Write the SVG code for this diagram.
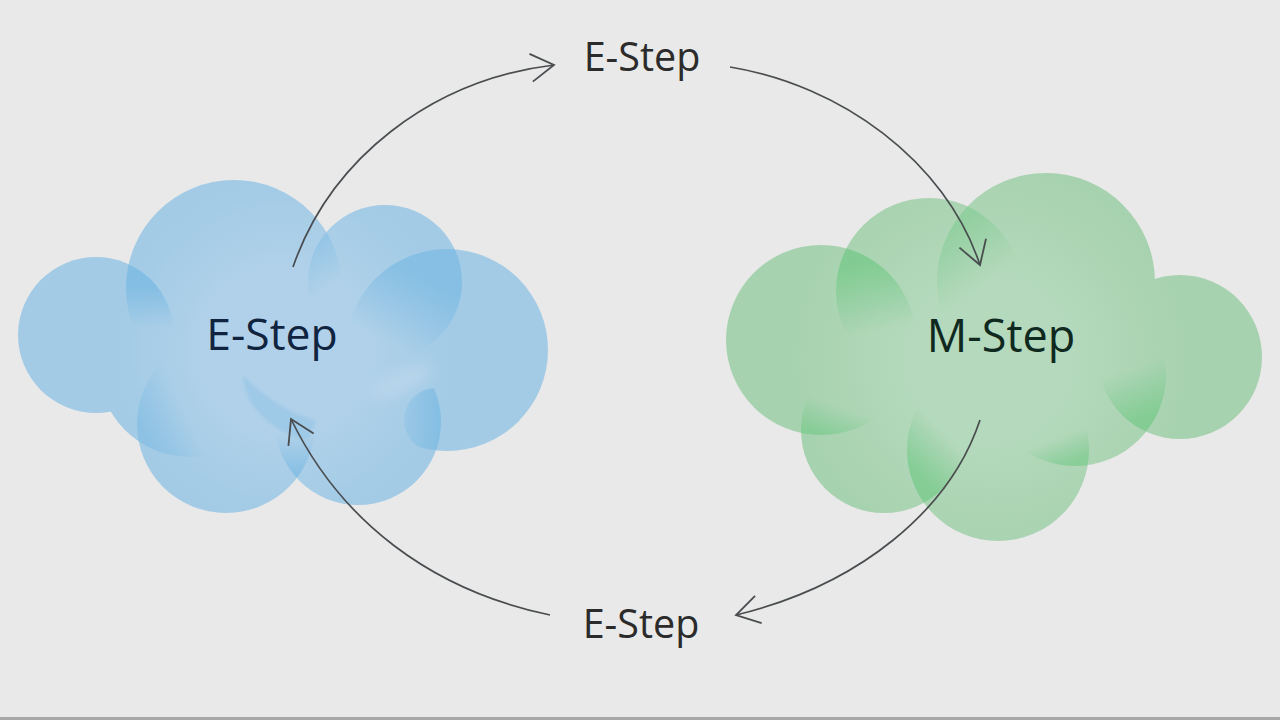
<svg xmlns="http://www.w3.org/2000/svg" width="1280" height="720" viewBox="0 0 1280 720">
<style>
.t{font-family:"Open Sans","Noto Sans",sans-serif;text-anchor:middle}
.conn{fill:none;stroke:#4a4d4f;stroke-width:1.7;marker-end:url(#head)}
.sb{stop-color:#7dbbe3}.sg{stop-color:#7dcb8f}
</style>
<defs>
<radialGradient id="baseB" gradientUnits="userSpaceOnUse" cx="285" cy="350" r="270"><stop offset=".3" stop-color="#b0d1e9"/><stop offset=".62" stop-color="#a3cbe6"/></radialGradient>
<radialGradient id="baseG" gradientUnits="userSpaceOnUse" cx="990" cy="360" r="280"><stop offset=".3" stop-color="#b4d9bc"/><stop offset=".7" stop-color="#a7d2af"/></radialGradient>
<linearGradient id="b1" gradientUnits="userSpaceOnUse" x1="0" y1="285" x2="0" y2="328"><stop class="sb" offset="0" stop-opacity=".85"/><stop class="sb" offset="1" stop-opacity="0"/></linearGradient>
<linearGradient id="b2" gradientUnits="userSpaceOnUse" x1="322" y1="232" x2="350" y2="272"><stop class="sb" offset="0" stop-opacity=".55"/><stop class="sb" offset="1" stop-opacity="0"/></linearGradient>
<linearGradient id="b3" gradientUnits="userSpaceOnUse" x1="425" y1="280" x2="395" y2="345"><stop class="sb" offset="0" stop-opacity=".75"/><stop class="sb" offset="1" stop-opacity="0"/></linearGradient>
<linearGradient id="b4" gradientUnits="userSpaceOnUse" x1="140" y1="425" x2="182" y2="405"><stop class="sb" offset="0" stop-opacity=".6"/><stop class="sb" offset="1" stop-opacity="0"/></linearGradient>
<linearGradient id="b5" gradientUnits="userSpaceOnUse" x1="0" y1="478" x2="0" y2="435"><stop class="sb" offset="0" stop-opacity=".85"/><stop class="sb" offset="1" stop-opacity="0"/></linearGradient>
<linearGradient id="b7" gradientUnits="userSpaceOnUse" x1="405" y1="0" x2="440" y2="0"><stop class="sb" offset="0" stop-opacity=".3"/><stop class="sb" offset="1" stop-opacity=".8"/></linearGradient>
<linearGradient id="g1" gradientUnits="userSpaceOnUse" x1="860" y1="265" x2="872" y2="332"><stop class="sg" offset="0" stop-opacity=".9"/><stop class="sg" offset="1" stop-opacity="0"/></linearGradient>
<linearGradient id="g2" gradientUnits="userSpaceOnUse" x1="945" y1="235" x2="982" y2="285"><stop class="sg" offset="0" stop-opacity=".55"/><stop class="sg" offset="1" stop-opacity="0"/></linearGradient>
<linearGradient id="g3" gradientUnits="userSpaceOnUse" x1="815" y1="433" x2="825" y2="402"><stop class="sg" offset="0" stop-opacity=".8"/><stop class="sg" offset="1" stop-opacity="0"/></linearGradient>
<linearGradient id="g4" gradientUnits="userSpaceOnUse" x1="915" y1="490" x2="958" y2="448"><stop class="sg" offset=".2" stop-opacity=".85"/><stop class="sg" offset="1" stop-opacity="0"/></linearGradient>
<linearGradient id="g5" gradientUnits="userSpaceOnUse" x1="1068" y1="464" x2="1058" y2="438"><stop class="sg" offset="0" stop-opacity=".75"/><stop class="sg" offset="1" stop-opacity="0"/></linearGradient>
<linearGradient id="g6" gradientUnits="userSpaceOnUse" x1="1150" y1="425" x2="1130" y2="368"><stop class="sg" offset=".15" stop-opacity=".85"/><stop class="sg" offset="1" stop-opacity="0"/></linearGradient>
<filter id="soft" x="-30%" y="-30%" width="160%" height="160%"><feGaussianBlur stdDeviation="1.5"/></filter>
<filter id="softer" x="-40%" y="-60%" width="180%" height="220%"><feGaussianBlur stdDeviation="7"/></filter>
<clipPath id="bA"><circle cx="234" cy="288" r="108"/></clipPath>
<clipPath id="bC"><circle cx="385" cy="282" r="77"/></clipPath>
<clipPath id="bD"><circle cx="447" cy="350" r="101"/></clipPath>
<clipPath id="bE"><circle cx="226" cy="424" r="89"/></clipPath>
<clipPath id="bF"><circle cx="358" cy="422" r="83"/></clipPath>
<clipPath id="gA"><circle cx="1046" cy="282" r="109"/></clipPath>
<clipPath id="gB"><circle cx="929" cy="291" r="93"/></clipPath>
<clipPath id="gD"><circle cx="1180" cy="357" r="82"/></clipPath>
<clipPath id="gE"><circle cx="884" cy="430" r="83"/></clipPath>
<clipPath id="gF"><circle cx="998" cy="450" r="91"/></clipPath>
<marker id="head" markerUnits="userSpaceOnUse" markerWidth="40" markerHeight="40" viewBox="-28 -20 32 40" refX="0" refY="0" orient="auto"><path d="M-23,-14 L0,0 L-23,14" fill="none" stroke="#4a4d4f" stroke-width="1.8"/></marker>
</defs>
<rect width="1280" height="720" fill="#e9e9e9"/>
<rect y="717" width="1280" height="3" fill="#a8a8a8"/>
<g id="cloud-e-step">
<g fill="url(#baseB)">
<circle cx="234" cy="288" r="108"/><circle cx="96" cy="335" r="78"/><circle cx="385" cy="282" r="77"/><circle cx="447" cy="350" r="101"/><circle cx="226" cy="424" r="89"/><circle cx="358" cy="422" r="83"/><circle cx="190" cy="365" r="92"/><circle cx="320" cy="330" r="92"/>
</g>
<ellipse cx="400" cy="382" rx="34" ry="10" transform="rotate(-25 400 382)" fill="#b8d6eb" filter="url(#softer)"/>
<circle fill="url(#b1)" cx="96" cy="335" r="78" clip-path="url(#bA)"/>
<circle fill="url(#b2)" cx="234" cy="288" r="108" clip-path="url(#bC)"/>
<circle fill="url(#b3)" cx="385" cy="282" r="77" clip-path="url(#bD)"/>
<circle fill="url(#b4)" cx="190" cy="365" r="92" clip-path="url(#bE)"/>
<circle fill="url(#b5)" cx="226" cy="424" r="89" clip-path="url(#bF)"/>
<g clip-path="url(#bF)"><ellipse fill="url(#b7)" cx="436" cy="420" rx="32" ry="32" clip-path="url(#bD)"/></g>
<path d="M243 375C245 412 280 435 308 440L316 421C285 412 262 395 243 375Z" fill="#8fc3e6" fill-opacity=".55" filter="url(#soft)"/>
<text class="t" x="272" y="350" font-size="44.5" fill="#10243f">E-Step</text>
</g>
<g id="cloud-m-step">
<g fill="url(#baseG)">
<circle cx="1046" cy="282" r="109"/><circle cx="929" cy="291" r="93"/><circle cx="821" cy="340" r="95"/><circle cx="1180" cy="357" r="82"/><circle cx="884" cy="430" r="83"/><circle cx="998" cy="450" r="91"/><circle cx="1075" cy="375" r="91"/><circle cx="985" cy="350" r="90"/>
</g>
<circle fill="url(#g1)" cx="821" cy="340" r="95" clip-path="url(#gB)"/>
<circle fill="url(#g2)" cx="929" cy="291" r="93" clip-path="url(#gA)"/>
<circle fill="url(#g3)" cx="821" cy="340" r="95" clip-path="url(#gE)"/>
<circle fill="url(#g4)" cx="884" cy="430" r="83" clip-path="url(#gF)"/>
<circle fill="url(#g5)" cx="1075" cy="375" r="91" clip-path="url(#gF)"/>
<circle fill="url(#g6)" cx="1075" cy="375" r="91" clip-path="url(#gD)"/>
<text class="t" x="1001" y="352" font-size="45" fill="#10291f">M-Step</text>
</g>
<g id="label-top"><text class="t" x="642" y="71" font-size="39.5" fill="#2b2b2b">E-Step</text></g>
<g id="label-bottom"><text class="t" x="641" y="638" font-size="39.5" fill="#2b2b2b">E-Step</text></g>
<g id="connectors">
<path class="conn" d="M293 267C330 160 430 80 554 65"/>
<path class="conn" d="M730 67C840 85 945 160 980 265"/>
<path class="conn" d="M980 420C950 510 860 585 736 615"/>
<path class="conn" d="M550 615C430 590 340 520 291 419"/>
</g>
</svg>
